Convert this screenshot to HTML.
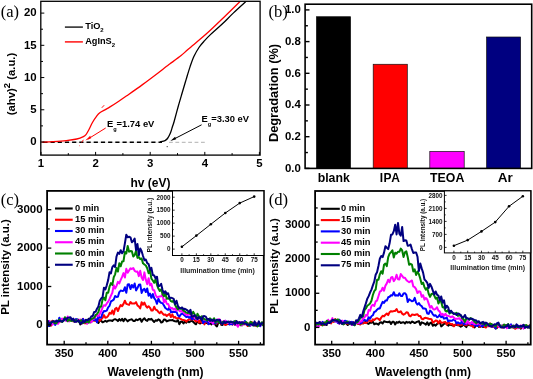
<!DOCTYPE html>
<html><head><meta charset="utf-8"><style>
html,body{margin:0;padding:0;background:#fff;width:533px;height:379px;overflow:hidden;}
svg{display:block;will-change:transform;}
</style></head><body>
<svg width="533" height="379" viewBox="0 0 533 379">
<rect x="0" y="0" width="533" height="379" fill="#fff"/>
<clipPath id="ca"><rect x="40.8" y="1.3" width="219.3" height="153.79999999999998"/></clipPath>
<g clip-path="url(#ca)">
<line x1="42.00" y1="142.30" x2="162.00" y2="142.30" stroke="#ddd" stroke-width="0.8" />
<line x1="43.30" y1="142.30" x2="162.00" y2="142.30" stroke="#000" stroke-width="1.4" stroke-dasharray="4.2,3"/>
<line x1="169.00" y1="142.30" x2="207.00" y2="142.30" stroke="#a8a8a8" stroke-width="0.9" stroke-dasharray="3.8,2.6"/>
<path d="M41.50,142.10 C43.43,142.02 48.97,141.85 53.10,141.60 C57.23,141.35 62.35,141.03 66.30,140.60 C70.25,140.17 73.95,139.67 76.80,139.00 C79.65,138.33 81.87,137.33 83.40,136.60 C84.93,135.87 85.13,135.65 86.00,134.60 C86.87,133.55 87.50,132.35 88.60,130.30 C89.70,128.25 91.28,124.62 92.60,122.30 C93.92,119.98 95.30,117.98 96.50,116.40 C97.70,114.82 98.27,113.97 99.80,112.80 C101.33,111.63 104.00,110.38 105.70,109.40 C107.40,108.42 107.82,108.27 110.00,106.90 C112.18,105.53 116.02,103.05 118.80,101.20 C121.58,99.35 122.75,98.57 126.70,95.80 C130.65,93.03 137.22,88.45 142.50,84.60 C147.78,80.75 154.65,75.55 158.40,72.70 C162.15,69.85 163.07,68.98 165.00,67.50 C166.93,66.02 167.32,65.78 170.00,63.80 C172.68,61.82 178.02,58.07 181.10,55.60 C184.18,53.13 184.18,52.72 188.50,49.00 C192.82,45.28 200.83,38.85 207.00,33.30 C213.17,27.75 219.75,21.25 225.50,15.70 C231.25,10.15 238.83,2.62 241.50,0.00" fill="none" stroke="#f00" stroke-width="1.3" stroke-linejoin="round" />
<path d="M160.00,141.90 C160.83,141.68 163.75,141.17 165.00,140.60 C166.25,140.03 166.62,139.72 167.50,138.50 C168.38,137.28 169.47,135.30 170.30,133.30 C171.13,131.30 171.85,128.52 172.50,126.50 C173.15,124.48 173.25,124.53 174.20,121.20 C175.15,117.87 176.87,111.23 178.20,106.50 C179.53,101.77 180.88,97.28 182.20,92.80 C183.52,88.32 184.78,83.97 186.10,79.60 C187.42,75.23 188.78,70.48 190.10,66.60 C191.42,62.72 192.47,59.57 194.00,56.30 C195.53,53.03 197.53,49.62 199.30,47.00 C201.07,44.38 202.70,42.70 204.60,40.60 C206.50,38.50 207.77,37.17 210.70,34.40 C213.63,31.63 218.40,27.58 222.20,24.00 C226.00,20.42 229.27,16.90 233.50,12.90 C237.73,8.90 245.25,2.15 247.60,0.00" fill="none" stroke="#000" stroke-width="1.3" stroke-linejoin="round" />
</g>
<line x1="101.80" y1="107.80" x2="104.20" y2="105.20" stroke="#f00" stroke-width="0.9" />
<line x1="81.60" y1="142.60" x2="83.40" y2="139.80" stroke="#f00" stroke-width="0.9" />
<line x1="105.70" y1="128.00" x2="88.00" y2="139.00" stroke="#f00" stroke-width="1.0" />
<polygon points="85.3,140.6 90.2,135.8 91.2,138.3" fill="#f00"/>
<rect x="79" y="145.2" width="1" height="1" fill="#f88"/>
<line x1="201.60" y1="124.80" x2="173.50" y2="139.30" stroke="#000" stroke-width="1.0" />
<polygon points="170.3,141.0 175.1,136.7 176.2,139.3" fill="#000"/>
<rect x="166.7" y="146" width="1" height="1.2" fill="#444"/>
<rect x="40.80" y="1.30" width="219.30" height="153.80" fill="none" stroke="#000" stroke-width="1.3"/>
<line x1="40.80" y1="142.00" x2="44.30" y2="142.00" stroke="#000" stroke-width="1.0" />
<text x="36.60" y="145.20" font-family="'Liberation Sans', sans-serif" font-size="11.4" font-weight="bold" text-anchor="end" fill="#000" >0</text>
<line x1="40.80" y1="109.78" x2="44.30" y2="109.78" stroke="#000" stroke-width="1.0" />
<text x="36.60" y="112.98" font-family="'Liberation Sans', sans-serif" font-size="11.4" font-weight="bold" text-anchor="end" fill="#000" >5</text>
<line x1="40.80" y1="77.55" x2="44.30" y2="77.55" stroke="#000" stroke-width="1.0" />
<text x="36.60" y="80.75" font-family="'Liberation Sans', sans-serif" font-size="11.4" font-weight="bold" text-anchor="end" fill="#000" >10</text>
<line x1="40.80" y1="45.32" x2="44.30" y2="45.32" stroke="#000" stroke-width="1.0" />
<text x="36.60" y="48.52" font-family="'Liberation Sans', sans-serif" font-size="11.4" font-weight="bold" text-anchor="end" fill="#000" >15</text>
<line x1="40.80" y1="13.10" x2="44.30" y2="13.10" stroke="#000" stroke-width="1.0" />
<text x="36.60" y="16.30" font-family="'Liberation Sans', sans-serif" font-size="11.4" font-weight="bold" text-anchor="end" fill="#000" >20</text>
<line x1="40.80" y1="125.89" x2="43.00" y2="125.89" stroke="#000" stroke-width="1.0" />
<line x1="40.80" y1="93.66" x2="43.00" y2="93.66" stroke="#000" stroke-width="1.0" />
<line x1="40.80" y1="61.44" x2="43.00" y2="61.44" stroke="#000" stroke-width="1.0" />
<line x1="40.80" y1="29.21" x2="43.00" y2="29.21" stroke="#000" stroke-width="1.0" />
<line x1="41.00" y1="155.10" x2="41.00" y2="151.90" stroke="#000" stroke-width="1.0" />
<text x="41.00" y="167.40" font-family="'Liberation Sans', sans-serif" font-size="11.4" font-weight="bold" text-anchor="middle" fill="#000" >1</text>
<line x1="95.60" y1="155.10" x2="95.60" y2="151.90" stroke="#000" stroke-width="1.0" />
<text x="95.60" y="167.40" font-family="'Liberation Sans', sans-serif" font-size="11.4" font-weight="bold" text-anchor="middle" fill="#000" >2</text>
<line x1="150.20" y1="155.10" x2="150.20" y2="151.90" stroke="#000" stroke-width="1.0" />
<text x="150.20" y="167.40" font-family="'Liberation Sans', sans-serif" font-size="11.4" font-weight="bold" text-anchor="middle" fill="#000" >3</text>
<line x1="204.80" y1="155.10" x2="204.80" y2="151.90" stroke="#000" stroke-width="1.0" />
<text x="204.80" y="167.40" font-family="'Liberation Sans', sans-serif" font-size="11.4" font-weight="bold" text-anchor="middle" fill="#000" >4</text>
<line x1="259.40" y1="155.10" x2="259.40" y2="151.90" stroke="#000" stroke-width="1.0" />
<text x="259.40" y="167.40" font-family="'Liberation Sans', sans-serif" font-size="11.4" font-weight="bold" text-anchor="middle" fill="#000" >5</text>
<line x1="68.30" y1="155.10" x2="68.30" y2="153.10" stroke="#000" stroke-width="1.0" />
<line x1="122.90" y1="155.10" x2="122.90" y2="153.10" stroke="#000" stroke-width="1.0" />
<line x1="177.50" y1="155.10" x2="177.50" y2="153.10" stroke="#000" stroke-width="1.0" />
<line x1="232.10" y1="155.10" x2="232.10" y2="153.10" stroke="#000" stroke-width="1.0" />
<text x="150.50" y="186.50" font-family="'Liberation Sans', sans-serif" font-size="12" font-weight="bold" text-anchor="middle" fill="#000" >hv (eV)</text>
<text transform="translate(14.6,84) rotate(-90)" font-family="'Liberation Sans', sans-serif" font-size="11.3" font-weight="bold" text-anchor="middle">(ahv)<tspan font-size="9.5" dy="-4.6">2</tspan><tspan dy="4.6"> (a.u.)</tspan></text>
<text x="0.70" y="16.80" font-family="'Liberation Serif', serif" font-size="16.5" font-weight="normal" text-anchor="start" fill="#000" >(a)</text>
<line x1="64.90" y1="27.10" x2="82.90" y2="27.10" stroke="#222" stroke-width="1.5" />
<line x1="64.90" y1="41.90" x2="82.90" y2="41.90" stroke="#f00" stroke-width="1.4" />
<text x="85.2" y="29.0" font-family="'Liberation Sans', sans-serif" font-size="9.2" font-weight="bold">TiO<tspan font-size="6" dy="3.4">2</tspan></text>
<text x="85.2" y="43.8" font-family="'Liberation Sans', sans-serif" font-size="9.2" font-weight="bold">AgInS<tspan font-size="6" dy="3.4">2</tspan></text>
<text x="106.9" y="126.5" font-family="'Liberation Sans', sans-serif" font-size="9.4" font-weight="bold">E<tspan font-size="5.6" dy="4.2">g</tspan><tspan dy="-4.2">=1.74 eV</tspan></text>
<text x="201.5" y="122.2" font-family="'Liberation Sans', sans-serif" font-size="9.4" font-weight="bold">E<tspan font-size="5.6" dy="4.2">g</tspan><tspan dy="-4.2">=3.30 eV</tspan></text>
<rect x="316.40" y="16.72" width="34.20" height="151.68" fill="#000" stroke="#111" stroke-width="0.7"/>
<rect x="373.20" y="64.27" width="34.10" height="104.13" fill="#f00" stroke="#111" stroke-width="0.7"/>
<rect x="429.80" y="151.44" width="34.40" height="16.96" fill="#f0f" stroke="#111" stroke-width="0.7"/>
<rect x="486.60" y="37.00" width="34.00" height="131.40" fill="#000080" stroke="#111" stroke-width="0.7"/>
<rect x="305.10" y="4.20" width="226.60" height="164.20" fill="none" stroke="#000" stroke-width="1.6"/>
<line x1="305.10" y1="168.40" x2="309.50" y2="168.40" stroke="#000" stroke-width="1.4" />
<text x="300.80" y="171.60" font-family="'Liberation Sans', sans-serif" font-size="11.4" font-weight="bold" text-anchor="end" fill="#000" >0.0</text>
<line x1="305.10" y1="136.70" x2="309.50" y2="136.70" stroke="#000" stroke-width="1.4" />
<text x="300.80" y="139.90" font-family="'Liberation Sans', sans-serif" font-size="11.4" font-weight="bold" text-anchor="end" fill="#000" >0.2</text>
<line x1="305.10" y1="105.00" x2="309.50" y2="105.00" stroke="#000" stroke-width="1.4" />
<text x="300.80" y="108.20" font-family="'Liberation Sans', sans-serif" font-size="11.4" font-weight="bold" text-anchor="end" fill="#000" >0.4</text>
<line x1="305.10" y1="73.30" x2="309.50" y2="73.30" stroke="#000" stroke-width="1.4" />
<text x="300.80" y="76.50" font-family="'Liberation Sans', sans-serif" font-size="11.4" font-weight="bold" text-anchor="end" fill="#000" >0.6</text>
<line x1="305.10" y1="41.60" x2="309.50" y2="41.60" stroke="#000" stroke-width="1.4" />
<text x="300.80" y="44.80" font-family="'Liberation Sans', sans-serif" font-size="11.4" font-weight="bold" text-anchor="end" fill="#000" >0.8</text>
<line x1="305.10" y1="9.90" x2="309.50" y2="9.90" stroke="#000" stroke-width="1.4" />
<text x="300.80" y="13.10" font-family="'Liberation Sans', sans-serif" font-size="11.4" font-weight="bold" text-anchor="end" fill="#000" >1.0</text>
<line x1="305.10" y1="152.55" x2="307.90" y2="152.55" stroke="#000" stroke-width="1.4" />
<line x1="305.10" y1="120.85" x2="307.90" y2="120.85" stroke="#000" stroke-width="1.4" />
<line x1="305.10" y1="89.15" x2="307.90" y2="89.15" stroke="#000" stroke-width="1.4" />
<line x1="305.10" y1="57.45" x2="307.90" y2="57.45" stroke="#000" stroke-width="1.4" />
<line x1="305.10" y1="25.75" x2="307.90" y2="25.75" stroke="#000" stroke-width="1.4" />
<text x="333.70" y="182.20" font-family="'Liberation Sans', sans-serif" font-size="12.3" font-weight="bold" text-anchor="middle" fill="#000" >blank</text>
<text x="390.10" y="182.00" font-family="'Liberation Sans', sans-serif" font-size="12.0" font-weight="bold" text-anchor="middle" fill="#000" letter-spacing="0.5">IPA</text>
<text x="447.20" y="182.20" font-family="'Liberation Sans', sans-serif" font-size="12.3" font-weight="bold" text-anchor="middle" fill="#000" >TEOA</text>
<text x="505.30" y="181.60" font-family="'Liberation Sans', sans-serif" font-size="13.5" font-weight="bold" text-anchor="middle" fill="#000" >Ar</text>
<text transform="translate(277.9,93) rotate(-90)" font-family="'Liberation Sans', sans-serif" font-size="12.8" font-weight="bold" text-anchor="middle">Degradation (%)</text>
<text x="268.40" y="17.00" font-family="'Liberation Serif', serif" font-size="16.6" font-weight="normal" text-anchor="start" fill="#000" >(b)</text>
<clipPath id="cc"><rect x="47.1" y="190.9" width="216.70000000000002" height="153.70000000000002"/></clipPath>
<g clip-path="url(#cc)">
<polyline points="46.76,322.76 48.16,322.10 49.55,322.59 50.95,324.45 52.34,321.73 53.74,322.18 55.13,323.26 56.53,321.64 57.92,321.53 59.32,321.26 60.71,321.22 62.11,319.76 63.50,320.44 64.90,319.33 66.29,319.71 67.69,318.43 69.08,319.09 70.48,319.80 71.87,320.79 73.27,320.57 74.66,320.67 76.06,321.16 77.45,319.44 78.85,319.94 80.24,324.48 81.64,323.50 83.04,321.46 84.43,321.75 85.83,320.99 87.22,320.98 88.62,318.69 90.01,322.52 91.41,321.63 92.80,318.71 94.20,320.35 95.59,320.29 96.99,321.66 98.38,322.98 99.78,320.75 101.17,320.76 102.57,322.32 103.96,321.61 105.36,320.81 106.75,321.81 108.15,320.73 109.54,320.43 110.94,320.44 112.33,321.03 113.73,319.61 115.12,319.17 116.52,319.80 117.92,321.15 119.31,319.17 120.71,320.64 122.10,318.87 123.50,321.25 124.89,318.72 126.29,319.84 127.68,321.33 129.08,320.13 130.47,319.64 131.87,319.34 133.26,320.90 134.66,321.05 136.05,319.42 137.45,320.27 138.84,319.40 140.24,318.76 141.63,321.80 143.03,319.43 144.42,318.24 145.82,320.19 147.21,320.87 148.61,318.96 150.00,319.62 151.40,318.87 152.80,320.47 154.19,321.94 155.59,320.30 156.98,320.78 158.38,319.32 159.77,320.11 161.17,322.43 162.56,321.95 163.96,319.44 165.35,319.76 166.75,321.44 168.14,320.72 169.54,320.26 170.93,320.34 172.33,319.95 173.72,320.81 175.12,321.33 176.51,321.62 177.91,320.11 179.30,324.22 180.70,321.74 182.09,321.62 183.49,323.48 184.88,321.43 186.28,322.71 187.68,320.96 189.07,322.24 190.47,321.36 191.86,320.78 193.26,321.87 194.65,323.46 196.05,324.31 197.44,320.45 198.84,322.77 200.23,323.54 201.63,322.61 203.02,323.09 204.42,321.91 205.81,322.96 207.21,323.05 208.60,324.00 210.00,322.64 211.39,324.51 212.79,322.54 214.18,321.54 215.58,325.22 216.97,326.38 218.37,322.72 219.76,320.44 221.16,324.71 222.56,325.04 223.95,322.87 225.35,324.61 226.74,324.24 228.14,324.08 229.53,323.05 230.93,324.20 232.32,323.41 233.72,323.98 235.11,324.80 236.51,324.20 237.90,324.98 239.30,323.87 240.69,325.24 242.09,325.23 243.48,322.21 244.88,324.04 246.27,324.06 247.67,323.41 249.06,324.55 250.46,324.34 251.85,323.59 253.25,323.78 254.64,325.52 256.04,323.17 257.44,324.89 258.83,325.47 260.23,325.31 261.62,324.72 263.02,322.34 264.41,325.70" fill="none" stroke="#000" stroke-width="2.0" stroke-linejoin="round" />
<polyline points="46.76,322.95 48.16,323.70 49.55,323.48 50.95,325.80 52.34,320.66 53.74,321.35 55.13,323.01 56.53,321.41 57.92,321.63 59.32,322.27 60.71,320.09 62.11,320.78 63.50,319.95 64.90,320.08 66.29,318.60 67.69,319.26 69.08,318.49 70.48,320.17 71.87,319.71 73.27,321.33 74.66,319.67 76.06,320.61 77.45,320.59 78.85,320.65 80.24,322.46 81.64,320.32 83.04,318.80 84.43,323.20 85.83,323.31 87.22,323.04 88.62,320.25 90.01,321.10 91.41,319.98 92.80,320.34 94.20,320.76 95.59,320.40 96.99,320.66 98.38,318.95 99.78,320.90 101.17,319.42 102.57,317.92 103.96,315.09 105.36,317.69 106.75,317.34 108.15,315.85 109.54,312.87 110.94,313.76 112.33,310.52 113.73,314.37 115.12,308.74 116.52,307.91 117.92,311.00 119.31,307.61 120.71,305.04 122.10,306.19 123.50,303.86 124.89,300.74 126.29,303.85 127.68,304.41 129.08,304.90 130.47,302.04 131.87,303.48 133.26,303.48 134.66,303.41 136.05,302.12 137.45,305.35 138.84,306.44 140.24,308.39 141.63,302.27 143.03,304.68 144.42,302.63 145.82,305.81 147.21,307.67 148.61,306.26 150.00,307.84 151.40,310.40 152.80,310.41 154.19,306.77 155.59,309.68 156.98,310.24 158.38,311.98 159.77,313.25 161.17,311.48 162.56,313.49 163.96,314.92 165.35,314.45 166.75,315.97 168.14,314.80 169.54,313.89 170.93,317.07 172.33,314.35 173.72,317.64 175.12,316.90 176.51,318.60 177.91,318.10 179.30,318.07 180.70,319.02 182.09,319.66 183.49,319.91 184.88,320.37 186.28,321.59 187.68,320.14 189.07,319.52 190.47,319.09 191.86,319.63 193.26,317.54 194.65,320.43 196.05,321.59 197.44,318.85 198.84,322.66 200.23,320.31 201.63,322.86 203.02,321.40 204.42,324.41 205.81,321.03 207.21,322.47 208.60,323.60 210.00,320.50 211.39,321.74 212.79,322.73 214.18,323.77 215.58,323.00 216.97,323.22 218.37,322.22 219.76,322.20 221.16,324.04 222.56,323.96 223.95,323.99 225.35,325.03 226.74,324.17 228.14,323.62 229.53,322.72 230.93,322.01 232.32,324.61 233.72,323.02 235.11,324.25 236.51,321.28 237.90,323.86 239.30,323.25 240.69,325.01 242.09,324.90 243.48,323.73 244.88,324.47 246.27,323.62 247.67,325.93 249.06,323.31 250.46,325.18 251.85,322.08 253.25,324.50 254.64,322.87 256.04,325.86 257.44,323.71 258.83,325.29 260.23,324.84 261.62,324.25 263.02,324.68 264.41,324.00" fill="none" stroke="#f00" stroke-width="2.0" stroke-linejoin="round" />
<polyline points="46.76,320.74 48.16,326.12 49.55,322.49 50.95,323.57 52.34,323.34 53.74,322.97 55.13,325.02 56.53,322.60 57.92,323.00 59.32,317.65 60.71,320.98 62.11,320.83 63.50,319.90 64.90,319.94 66.29,320.40 67.69,319.61 69.08,318.57 70.48,319.73 71.87,318.72 73.27,320.50 74.66,320.65 76.06,318.99 77.45,320.33 78.85,321.74 80.24,321.47 81.64,320.61 83.04,318.95 84.43,321.57 85.83,321.54 87.22,320.06 88.62,322.31 90.01,321.60 91.41,320.01 92.80,319.95 94.20,320.01 95.59,318.68 96.99,322.27 98.38,316.23 99.78,317.70 101.17,317.45 102.57,313.22 103.96,310.98 105.36,311.16 106.75,310.66 108.15,307.31 109.54,305.81 110.94,301.45 112.33,300.65 113.73,299.69 115.12,296.01 116.52,296.92 117.92,296.81 119.31,292.07 120.71,290.59 122.10,290.89 123.50,290.81 124.89,287.29 126.29,292.83 127.68,284.46 129.08,284.25 130.47,289.07 131.87,284.94 133.26,287.52 134.66,283.48 136.05,290.40 137.45,288.06 138.84,284.77 140.24,284.42 141.63,292.91 143.03,289.85 144.42,288.88 145.82,292.06 147.21,288.42 148.61,295.77 150.00,293.67 151.40,297.81 152.80,293.99 154.19,298.10 155.59,300.01 156.98,303.84 158.38,298.70 159.77,301.70 161.17,302.86 162.56,303.20 163.96,305.50 165.35,308.03 166.75,309.07 168.14,309.81 169.54,307.05 170.93,312.37 172.33,311.73 173.72,312.01 175.12,311.87 176.51,312.00 177.91,315.33 179.30,316.59 180.70,314.61 182.09,313.39 183.49,314.57 184.88,315.82 186.28,317.03 187.68,316.60 189.07,317.73 190.47,316.66 191.86,319.19 193.26,318.27 194.65,318.92 196.05,318.35 197.44,319.07 198.84,316.31 200.23,317.96 201.63,318.24 203.02,323.04 204.42,321.11 205.81,321.68 207.21,320.47 208.60,324.23 210.00,320.10 211.39,320.44 212.79,323.57 214.18,323.31 215.58,323.22 216.97,322.31 218.37,321.71 219.76,320.10 221.16,322.97 222.56,321.90 223.95,322.75 225.35,320.89 226.74,322.21 228.14,321.53 229.53,324.56 230.93,323.56 232.32,324.37 233.72,321.64 235.11,322.73 236.51,323.95 237.90,324.18 239.30,323.12 240.69,324.60 242.09,324.94 243.48,323.31 244.88,321.01 246.27,324.30 247.67,324.71 249.06,325.48 250.46,325.70 251.85,323.51 253.25,323.14 254.64,324.16 256.04,323.80 257.44,324.08 258.83,324.07 260.23,326.07 261.62,324.82 263.02,324.17 264.41,325.25" fill="none" stroke="#00f" stroke-width="2.0" stroke-linejoin="round" />
<polyline points="46.76,323.95 48.16,323.29 49.55,321.01 50.95,322.11 52.34,324.76 53.74,322.72 55.13,323.36 56.53,322.15 57.92,323.88 59.32,321.32 60.71,320.97 62.11,318.53 63.50,319.19 64.90,318.53 66.29,320.92 67.69,316.46 69.08,321.42 70.48,318.14 71.87,320.25 73.27,321.31 74.66,321.46 76.06,321.63 77.45,320.53 78.85,321.27 80.24,319.49 81.64,323.43 83.04,321.26 84.43,322.31 85.83,320.33 87.22,323.77 88.62,321.66 90.01,320.77 91.41,322.28 92.80,318.52 94.20,318.71 95.59,316.47 96.99,315.04 98.38,316.12 99.78,314.17 101.17,311.29 102.57,307.59 103.96,305.19 105.36,305.76 106.75,303.47 108.15,301.65 109.54,298.92 110.94,295.64 112.33,292.71 113.73,285.15 115.12,288.61 116.52,285.85 117.92,281.83 119.31,283.39 120.71,279.91 122.10,276.93 123.50,273.08 124.89,277.55 126.29,268.80 127.68,272.70 129.08,270.51 130.47,268.40 131.87,269.02 133.26,268.03 134.66,270.81 136.05,271.72 137.45,271.47 138.84,276.11 140.24,270.84 141.63,277.45 143.03,279.95 144.42,272.36 145.82,279.82 147.21,284.23 148.61,278.27 150.00,285.39 151.40,283.70 152.80,289.86 154.19,290.15 155.59,295.04 156.98,297.18 158.38,296.85 159.77,296.60 161.17,296.32 162.56,294.47 163.96,302.40 165.35,299.65 166.75,303.73 168.14,303.93 169.54,307.32 170.93,308.30 172.33,308.06 173.72,309.69 175.12,308.62 176.51,310.61 177.91,308.27 179.30,310.79 180.70,311.51 182.09,310.74 183.49,312.37 184.88,313.84 186.28,314.51 187.68,315.11 189.07,313.90 190.47,314.82 191.86,315.87 193.26,315.70 194.65,317.98 196.05,316.92 197.44,319.92 198.84,316.54 200.23,318.59 201.63,318.80 203.02,318.58 204.42,319.70 205.81,320.33 207.21,318.75 208.60,320.42 210.00,322.01 211.39,320.53 212.79,323.48 214.18,319.42 215.58,321.91 216.97,321.81 218.37,319.23 219.76,319.53 221.16,322.21 222.56,321.72 223.95,321.28 225.35,320.67 226.74,323.00 228.14,322.78 229.53,321.54 230.93,322.80 232.32,322.29 233.72,322.55 235.11,324.74 236.51,324.48 237.90,326.70 239.30,323.90 240.69,322.06 242.09,325.08 243.48,322.35 244.88,322.71 246.27,324.04 247.67,324.04 249.06,323.98 250.46,325.14 251.85,324.47 253.25,324.21 254.64,323.45 256.04,323.25 257.44,325.10 258.83,323.25 260.23,325.18 261.62,324.48 263.02,323.86 264.41,324.35" fill="none" stroke="#f0f" stroke-width="2.0" stroke-linejoin="round" />
<polyline points="46.76,324.13 48.16,324.66 49.55,323.28 50.95,322.40 52.34,321.45 53.74,322.58 55.13,323.28 56.53,323.26 57.92,321.08 59.32,319.66 60.71,320.93 62.11,321.88 63.50,320.70 64.90,317.24 66.29,318.90 67.69,321.20 69.08,319.24 70.48,320.83 71.87,320.61 73.27,320.85 74.66,321.53 76.06,320.17 77.45,321.06 78.85,321.84 80.24,320.76 81.64,320.26 83.04,323.21 84.43,321.56 85.83,322.42 87.22,321.44 88.62,322.39 90.01,320.03 91.41,319.12 92.80,318.37 94.20,317.84 95.59,315.06 96.99,314.01 98.38,312.22 99.78,307.06 101.17,306.54 102.57,299.57 103.96,297.57 105.36,300.25 106.75,292.67 108.15,292.65 109.54,286.70 110.94,283.12 112.33,284.96 113.73,277.25 115.12,274.33 116.52,267.94 117.92,271.59 119.31,263.14 120.71,266.32 122.10,261.51 123.50,261.26 124.89,252.04 126.29,253.56 127.68,245.97 129.08,251.71 130.47,251.07 131.87,251.25 133.26,256.53 134.66,254.98 136.05,250.80 137.45,257.89 138.84,257.14 140.24,259.12 141.63,258.53 143.03,263.35 144.42,264.53 145.82,265.49 147.21,268.21 148.61,273.25 150.00,270.34 151.40,278.67 152.80,280.49 154.19,282.79 155.59,279.20 156.98,284.86 158.38,288.55 159.77,290.99 161.17,289.27 162.56,294.24 163.96,296.20 165.35,293.63 166.75,298.78 168.14,298.31 169.54,299.01 170.93,301.19 172.33,301.73 173.72,300.41 175.12,304.99 176.51,307.40 177.91,309.39 179.30,307.54 180.70,308.73 182.09,308.61 183.49,310.67 184.88,311.50 186.28,312.65 187.68,313.04 189.07,312.66 190.47,314.09 191.86,313.96 193.26,311.88 194.65,314.50 196.05,317.97 197.44,313.72 198.84,316.16 200.23,318.40 201.63,316.27 203.02,317.91 204.42,319.18 205.81,319.59 207.21,320.44 208.60,319.41 210.00,318.41 211.39,320.56 212.79,319.89 214.18,318.26 215.58,322.48 216.97,320.83 218.37,321.76 219.76,322.92 221.16,323.07 222.56,321.99 223.95,321.60 225.35,322.96 226.74,322.38 228.14,321.68 229.53,322.33 230.93,321.75 232.32,322.36 233.72,322.43 235.11,320.90 236.51,322.46 237.90,323.15 239.30,322.54 240.69,324.60 242.09,324.00 243.48,322.74 244.88,323.03 246.27,322.02 247.67,323.95 249.06,325.78 250.46,321.77 251.85,322.83 253.25,325.42 254.64,322.54 256.04,324.16 257.44,326.38 258.83,324.74 260.23,324.86 261.62,322.38 263.02,325.24 264.41,324.62" fill="none" stroke="#008000" stroke-width="2.0" stroke-linejoin="round" />
<polyline points="46.76,321.92 48.16,320.97 49.55,326.03 50.95,323.06 52.34,321.60 53.74,321.10 55.13,321.84 56.53,320.55 57.92,321.62 59.32,320.95 60.71,321.04 62.11,321.69 63.50,320.57 64.90,318.69 66.29,319.83 67.69,317.63 69.08,317.60 70.48,317.31 71.87,319.89 73.27,318.62 74.66,321.75 76.06,321.80 77.45,320.89 78.85,320.80 80.24,323.16 81.64,323.31 83.04,320.83 84.43,322.28 85.83,319.80 87.22,320.34 88.62,319.54 90.01,318.50 91.41,316.32 92.80,315.92 94.20,311.90 95.59,311.82 96.99,308.72 98.38,306.44 99.78,300.83 101.17,298.53 102.57,297.13 103.96,287.69 105.36,289.50 106.75,285.36 108.15,280.12 109.54,272.26 110.94,273.34 112.33,267.11 113.73,265.36 115.12,266.98 116.52,256.49 117.92,252.58 119.31,253.84 120.71,250.22 122.10,253.31 123.50,251.22 124.89,243.39 126.29,234.73 127.68,237.32 129.08,236.77 130.47,237.33 131.87,242.30 133.26,241.07 134.66,238.56 136.05,250.06 137.45,244.02 138.84,255.22 140.24,248.42 141.63,251.19 143.03,255.97 144.42,260.27 145.82,259.49 147.21,263.19 148.61,264.10 150.00,269.72 151.40,267.87 152.80,275.02 154.19,275.51 155.59,278.41 156.98,276.69 158.38,286.27 159.77,285.73 161.17,283.87 162.56,290.05 163.96,293.04 165.35,291.23 166.75,294.06 168.14,293.22 169.54,298.40 170.93,297.64 172.33,298.17 173.72,298.88 175.12,304.22 176.51,300.75 177.91,306.11 179.30,308.26 180.70,308.31 182.09,307.42 183.49,309.17 184.88,308.82 186.28,309.58 187.68,310.64 189.07,312.26 190.47,309.76 191.86,316.55 193.26,316.40 194.65,315.14 196.05,316.78 197.44,319.17 198.84,317.13 200.23,317.54 201.63,320.39 203.02,316.24 204.42,316.09 205.81,316.63 207.21,319.41 208.60,318.92 210.00,320.97 211.39,319.56 212.79,321.03 214.18,319.90 215.58,321.14 216.97,319.63 218.37,320.15 219.76,319.86 221.16,323.67 222.56,324.12 223.95,321.52 225.35,322.91 226.74,321.85 228.14,322.11 229.53,322.39 230.93,321.61 232.32,322.17 233.72,322.39 235.11,324.16 236.51,321.08 237.90,323.13 239.30,322.05 240.69,323.10 242.09,322.08 243.48,323.53 244.88,323.56 246.27,323.75 247.67,324.84 249.06,324.75 250.46,324.29 251.85,324.27 253.25,325.32 254.64,321.37 256.04,325.36 257.44,324.58 258.83,321.33 260.23,325.04 261.62,323.37 263.02,323.51 264.41,324.57" fill="none" stroke="#000080" stroke-width="2.0" stroke-linejoin="round" />
</g>
<rect x="47.10" y="190.90" width="216.70" height="153.70" fill="none" stroke="#000" stroke-width="1.8"/>
<line x1="47.10" y1="324.90" x2="51.30" y2="324.90" stroke="#000" stroke-width="1.3" />
<text x="42.60" y="328.00" font-family="'Liberation Sans', sans-serif" font-size="11.5" font-weight="bold" text-anchor="end" fill="#000" >0</text>
<line x1="47.10" y1="286.50" x2="51.30" y2="286.50" stroke="#000" stroke-width="1.3" />
<text x="42.60" y="289.60" font-family="'Liberation Sans', sans-serif" font-size="11.5" font-weight="bold" text-anchor="end" fill="#000" >1000</text>
<line x1="47.10" y1="248.10" x2="51.30" y2="248.10" stroke="#000" stroke-width="1.3" />
<text x="42.60" y="251.20" font-family="'Liberation Sans', sans-serif" font-size="11.5" font-weight="bold" text-anchor="end" fill="#000" >2000</text>
<line x1="47.10" y1="209.70" x2="51.30" y2="209.70" stroke="#000" stroke-width="1.3" />
<text x="42.60" y="212.80" font-family="'Liberation Sans', sans-serif" font-size="11.5" font-weight="bold" text-anchor="end" fill="#000" >3000</text>
<line x1="47.10" y1="305.70" x2="49.70" y2="305.70" stroke="#000" stroke-width="1.3" />
<line x1="47.10" y1="267.30" x2="49.70" y2="267.30" stroke="#000" stroke-width="1.3" />
<line x1="47.10" y1="228.90" x2="49.70" y2="228.90" stroke="#000" stroke-width="1.3" />
<line x1="64.20" y1="344.60" x2="64.20" y2="340.80" stroke="#000" stroke-width="1.3" />
<text x="64.20" y="357.20" font-family="'Liberation Sans', sans-serif" font-size="11.4" font-weight="bold" text-anchor="middle" fill="#000" >350</text>
<line x1="107.80" y1="344.60" x2="107.80" y2="340.80" stroke="#000" stroke-width="1.3" />
<text x="107.80" y="357.20" font-family="'Liberation Sans', sans-serif" font-size="11.4" font-weight="bold" text-anchor="middle" fill="#000" >400</text>
<line x1="151.40" y1="344.60" x2="151.40" y2="340.80" stroke="#000" stroke-width="1.3" />
<text x="151.40" y="357.20" font-family="'Liberation Sans', sans-serif" font-size="11.4" font-weight="bold" text-anchor="middle" fill="#000" >450</text>
<line x1="195.00" y1="344.60" x2="195.00" y2="340.80" stroke="#000" stroke-width="1.3" />
<text x="195.00" y="357.20" font-family="'Liberation Sans', sans-serif" font-size="11.4" font-weight="bold" text-anchor="middle" fill="#000" >500</text>
<line x1="238.60" y1="344.60" x2="238.60" y2="340.80" stroke="#000" stroke-width="1.3" />
<text x="238.60" y="357.20" font-family="'Liberation Sans', sans-serif" font-size="11.4" font-weight="bold" text-anchor="middle" fill="#000" >550</text>
<line x1="86.00" y1="344.60" x2="86.00" y2="342.20" stroke="#000" stroke-width="1.3" />
<line x1="129.60" y1="344.60" x2="129.60" y2="342.20" stroke="#000" stroke-width="1.3" />
<line x1="173.20" y1="344.60" x2="173.20" y2="342.20" stroke="#000" stroke-width="1.3" />
<line x1="216.80" y1="344.60" x2="216.80" y2="342.20" stroke="#000" stroke-width="1.3" />
<line x1="260.40" y1="344.60" x2="260.40" y2="342.20" stroke="#000" stroke-width="1.3" />
<text x="155.50" y="375.80" font-family="'Liberation Sans', sans-serif" font-size="12" font-weight="bold" text-anchor="middle" fill="#000" >Wavelength (nm)</text>
<text transform="translate(8.5,267) rotate(-90)" font-family="'Liberation Sans', sans-serif" font-size="11.5" font-weight="bold" text-anchor="middle">PL intensity (a.u.)</text>
<text x="0.70" y="204.50" font-family="'Liberation Serif', serif" font-size="16.5" font-weight="normal" text-anchor="start" fill="#000" >(c)</text>
<line x1="55.00" y1="208.50" x2="72.70" y2="208.50" stroke="#000" stroke-width="2.1" />
<text x="75.00" y="210.60" font-family="'Liberation Sans', sans-serif" font-size="9.3" font-weight="bold" text-anchor="start" fill="#000" >0 min</text>
<line x1="55.00" y1="219.75" x2="72.70" y2="219.75" stroke="#f00" stroke-width="2.1" />
<text x="75.00" y="221.85" font-family="'Liberation Sans', sans-serif" font-size="9.3" font-weight="bold" text-anchor="start" fill="#000" >15 min</text>
<line x1="55.00" y1="231.00" x2="72.70" y2="231.00" stroke="#00f" stroke-width="2.1" />
<text x="75.00" y="233.10" font-family="'Liberation Sans', sans-serif" font-size="9.3" font-weight="bold" text-anchor="start" fill="#000" >30 min</text>
<line x1="55.00" y1="242.25" x2="72.70" y2="242.25" stroke="#f0f" stroke-width="2.1" />
<text x="75.00" y="244.35" font-family="'Liberation Sans', sans-serif" font-size="9.3" font-weight="bold" text-anchor="start" fill="#000" >45 min</text>
<line x1="55.00" y1="253.50" x2="72.70" y2="253.50" stroke="#008000" stroke-width="2.1" />
<text x="75.00" y="255.60" font-family="'Liberation Sans', sans-serif" font-size="9.3" font-weight="bold" text-anchor="start" fill="#000" >60 min</text>
<line x1="55.00" y1="264.75" x2="72.70" y2="264.75" stroke="#000080" stroke-width="2.1" />
<text x="75.00" y="266.85" font-family="'Liberation Sans', sans-serif" font-size="9.3" font-weight="bold" text-anchor="start" fill="#000" >75 min</text>
<rect x="172.5" y="190.9" width="91.30000000000001" height="64.6" fill="#fff" stroke="#000" stroke-width="1"/>
<polyline points="181.90,246.79 196.36,235.61 210.82,224.29 225.28,213.00 239.74,203.09 254.20,196.60" fill="none" stroke="#000" stroke-width="1.0" stroke-linejoin="round" />
<circle cx="181.90" cy="246.79" r="1.3" fill="#000"/>
<circle cx="196.36" cy="235.61" r="1.3" fill="#000"/>
<circle cx="210.82" cy="224.29" r="1.3" fill="#000"/>
<circle cx="225.28" cy="213.00" r="1.3" fill="#000"/>
<circle cx="239.74" cy="203.09" r="1.3" fill="#000"/>
<circle cx="254.20" cy="196.60" r="1.3" fill="#000"/>
<line x1="172.50" y1="249.10" x2="174.70" y2="249.10" stroke="#000" stroke-width="0.8" />
<text x="170.50" y="251.40" font-family="'Liberation Sans', sans-serif" font-size="6.3" font-weight="bold" text-anchor="end" fill="#111" >0</text>
<line x1="172.50" y1="236.12" x2="174.70" y2="236.12" stroke="#000" stroke-width="0.8" />
<text x="170.50" y="238.43" font-family="'Liberation Sans', sans-serif" font-size="6.3" font-weight="bold" text-anchor="end" fill="#111" >500</text>
<line x1="172.50" y1="223.15" x2="174.70" y2="223.15" stroke="#000" stroke-width="0.8" />
<text x="170.50" y="225.45" font-family="'Liberation Sans', sans-serif" font-size="6.3" font-weight="bold" text-anchor="end" fill="#111" >1000</text>
<line x1="172.50" y1="210.17" x2="174.70" y2="210.17" stroke="#000" stroke-width="0.8" />
<text x="170.50" y="212.47" font-family="'Liberation Sans', sans-serif" font-size="6.3" font-weight="bold" text-anchor="end" fill="#111" >1500</text>
<line x1="172.50" y1="197.20" x2="174.70" y2="197.20" stroke="#000" stroke-width="0.8" />
<text x="170.50" y="199.50" font-family="'Liberation Sans', sans-serif" font-size="6.3" font-weight="bold" text-anchor="end" fill="#111" >2000</text>
<line x1="172.50" y1="242.61" x2="173.80" y2="242.61" stroke="#000" stroke-width="0.8" />
<line x1="172.50" y1="229.64" x2="173.80" y2="229.64" stroke="#000" stroke-width="0.8" />
<line x1="172.50" y1="216.66" x2="173.80" y2="216.66" stroke="#000" stroke-width="0.8" />
<line x1="172.50" y1="203.69" x2="173.80" y2="203.69" stroke="#000" stroke-width="0.8" />
<line x1="181.90" y1="255.50" x2="181.90" y2="253.30" stroke="#000" stroke-width="0.8" />
<text x="181.90" y="262.40" font-family="'Liberation Sans', sans-serif" font-size="6.3" font-weight="bold" text-anchor="middle" fill="#111" >0</text>
<line x1="196.36" y1="255.50" x2="196.36" y2="253.30" stroke="#000" stroke-width="0.8" />
<text x="196.36" y="262.40" font-family="'Liberation Sans', sans-serif" font-size="6.3" font-weight="bold" text-anchor="middle" fill="#111" >15</text>
<line x1="210.82" y1="255.50" x2="210.82" y2="253.30" stroke="#000" stroke-width="0.8" />
<text x="210.82" y="262.40" font-family="'Liberation Sans', sans-serif" font-size="6.3" font-weight="bold" text-anchor="middle" fill="#111" >30</text>
<line x1="225.28" y1="255.50" x2="225.28" y2="253.30" stroke="#000" stroke-width="0.8" />
<text x="225.28" y="262.40" font-family="'Liberation Sans', sans-serif" font-size="6.3" font-weight="bold" text-anchor="middle" fill="#111" >45</text>
<line x1="239.74" y1="255.50" x2="239.74" y2="253.30" stroke="#000" stroke-width="0.8" />
<text x="239.74" y="262.40" font-family="'Liberation Sans', sans-serif" font-size="6.3" font-weight="bold" text-anchor="middle" fill="#111" >60</text>
<line x1="254.20" y1="255.50" x2="254.20" y2="253.30" stroke="#000" stroke-width="0.8" />
<text x="254.20" y="262.40" font-family="'Liberation Sans', sans-serif" font-size="6.3" font-weight="bold" text-anchor="middle" fill="#111" >75</text>
<line x1="189.13" y1="255.50" x2="189.13" y2="254.20" stroke="#000" stroke-width="0.8" />
<line x1="203.59" y1="255.50" x2="203.59" y2="254.20" stroke="#000" stroke-width="0.8" />
<line x1="218.05" y1="255.50" x2="218.05" y2="254.20" stroke="#000" stroke-width="0.8" />
<line x1="232.51" y1="255.50" x2="232.51" y2="254.20" stroke="#000" stroke-width="0.8" />
<line x1="246.97" y1="255.50" x2="246.97" y2="254.20" stroke="#000" stroke-width="0.8" />
<text x="217.60" y="273.00" font-family="'Liberation Sans', sans-serif" font-size="7" font-weight="bold" text-anchor="middle" fill="#222" >Illumination time (min)</text>
<text transform="translate(152.4,225.1) rotate(-90)" font-family="'Liberation Sans', sans-serif" font-size="6.6" font-weight="bold" text-anchor="middle" fill="#111">PL intensity (a.u.)</text>
<clipPath id="cd"><rect x="315.1" y="191.0" width="215.60000000000002" height="153.60000000000002"/></clipPath>
<g clip-path="url(#cd)">
<polyline points="314.26,324.12 315.66,322.66 317.05,322.75 318.45,324.53 319.84,324.25 321.24,324.44 322.63,323.23 324.03,323.64 325.42,322.47 326.82,324.89 328.21,320.96 329.61,322.18 331.00,320.81 332.40,321.13 333.79,321.36 335.19,320.51 336.58,320.17 337.98,321.35 339.37,321.71 340.77,321.23 342.16,323.29 343.56,324.27 344.95,322.36 346.35,323.61 347.74,325.05 349.14,324.00 350.54,323.63 351.93,324.40 353.33,324.71 354.72,323.08 356.12,322.16 357.51,323.34 358.91,323.88 360.30,322.68 361.70,322.32 363.09,323.39 364.49,322.48 365.88,321.93 367.28,323.24 368.67,323.87 370.07,322.60 371.46,322.68 372.86,321.74 374.25,324.28 375.65,323.59 377.04,323.75 378.44,324.69 379.83,322.64 381.23,322.17 382.62,323.51 384.02,321.17 385.42,321.75 386.81,321.93 388.21,322.15 389.60,321.52 391.00,324.01 392.39,321.85 393.79,321.85 395.18,324.44 396.58,322.10 397.97,322.76 399.37,321.62 400.76,322.97 402.16,322.51 403.55,322.14 404.95,323.51 406.34,321.90 407.74,322.71 409.13,322.07 410.53,323.23 411.92,321.53 413.32,322.13 414.71,323.07 416.11,322.26 417.50,321.64 418.90,321.14 420.30,324.92 421.69,322.31 423.09,322.86 424.48,323.57 425.88,324.66 427.27,322.28 428.67,325.12 430.06,323.21 431.46,322.51 432.85,325.75 434.25,324.43 435.64,325.62 437.04,324.02 438.43,322.72 439.83,322.25 441.22,326.42 442.62,325.19 444.01,323.88 445.41,323.00 446.80,324.31 448.20,325.62 449.59,324.56 450.99,324.96 452.38,325.22 453.78,325.85 455.18,324.71 456.57,324.85 457.97,325.34 459.36,325.53 460.76,326.72 462.15,325.92 463.55,324.17 464.94,325.71 466.34,327.10 467.73,324.19 469.13,325.10 470.52,323.47 471.92,325.70 473.31,326.31 474.71,327.41 476.10,324.50 477.50,323.23 478.89,326.88 480.29,326.73 481.68,325.43 483.08,326.97 484.47,326.40 485.87,326.50 487.26,325.95 488.66,325.01 490.06,326.17 491.45,325.24 492.85,326.68 494.24,325.90 495.64,328.54 497.03,327.83 498.43,325.46 499.82,326.95 501.22,325.73 502.61,325.79 504.01,324.98 505.40,325.54 506.80,325.34 508.19,326.55 509.59,327.19 510.98,327.24 512.38,327.00 513.77,327.70 515.17,327.10 516.56,326.63 517.96,326.28 519.35,326.92 520.75,328.62 522.14,326.67 523.54,326.37 524.94,325.48 526.33,326.03 527.73,327.34 529.12,327.44 530.52,324.56 531.91,325.90" fill="none" stroke="#000" stroke-width="2.0" stroke-linejoin="round" />
<polyline points="314.26,324.16 315.66,323.00 317.05,323.26 318.45,323.23 319.84,322.23 321.24,325.16 322.63,324.49 324.03,324.97 325.42,323.37 326.82,321.88 328.21,322.65 329.61,321.55 331.00,323.55 332.40,320.83 333.79,321.91 335.19,319.12 336.58,320.11 337.98,320.13 339.37,321.61 340.77,321.31 342.16,321.67 343.56,323.03 344.95,323.31 346.35,323.02 347.74,323.66 349.14,323.76 350.54,323.43 351.93,323.90 353.33,322.32 354.72,324.82 356.12,322.26 357.51,323.80 358.91,323.73 360.30,324.58 361.70,323.21 363.09,323.17 364.49,322.53 365.88,323.07 367.28,322.06 368.67,319.77 370.07,320.92 371.46,321.55 372.86,319.28 374.25,320.03 375.65,318.67 377.04,318.13 378.44,318.82 379.83,320.16 381.23,317.55 382.62,315.76 384.02,316.40 385.42,314.77 386.81,313.52 388.21,315.12 389.60,312.19 391.00,311.16 392.39,311.51 393.79,311.09 395.18,310.92 396.58,309.02 397.97,311.92 399.37,312.21 400.76,311.39 402.16,313.65 403.55,314.66 404.95,313.86 406.34,312.29 407.74,312.40 409.13,315.53 410.53,316.33 411.92,314.50 413.32,314.76 414.71,315.05 416.11,314.53 417.50,314.25 418.90,316.05 420.30,316.01 421.69,318.71 423.09,319.27 424.48,317.94 425.88,317.87 427.27,318.22 428.67,318.77 430.06,318.89 431.46,319.19 432.85,322.61 434.25,321.67 435.64,320.55 437.04,320.67 438.43,323.42 439.83,320.53 441.22,322.65 442.62,322.64 444.01,322.27 445.41,321.94 446.80,324.62 448.20,322.06 449.59,323.28 450.99,324.40 452.38,324.00 453.78,326.28 455.18,324.71 456.57,323.92 457.97,325.04 459.36,324.74 460.76,324.66 462.15,324.56 463.55,323.61 464.94,324.86 466.34,325.22 467.73,324.45 469.13,322.89 470.52,325.61 471.92,324.78 473.31,327.12 474.71,324.06 476.10,324.88 477.50,324.24 478.89,325.81 480.29,326.93 481.68,324.92 483.08,325.11 484.47,326.88 485.87,327.57 487.26,325.56 488.66,326.26 490.06,323.32 491.45,326.79 492.85,326.73 494.24,326.32 495.64,328.00 497.03,327.20 498.43,324.54 499.82,326.45 501.22,326.98 502.61,327.71 504.01,325.78 505.40,325.72 506.80,326.17 508.19,326.88 509.59,326.17 510.98,326.10 512.38,327.24 513.77,325.88 515.17,328.79 516.56,327.93 517.96,326.90 519.35,326.71 520.75,327.84 522.14,326.27 523.54,325.52 524.94,326.17 526.33,326.42 527.73,325.80 529.12,326.26 530.52,327.91 531.91,326.93" fill="none" stroke="#f00" stroke-width="2.0" stroke-linejoin="round" />
<polyline points="314.26,322.22 315.66,327.36 317.05,323.03 318.45,323.92 319.84,322.54 321.24,323.48 322.63,321.90 324.03,323.54 325.42,323.81 326.82,322.33 328.21,322.16 329.61,322.45 331.00,321.79 332.40,320.22 333.79,320.21 335.19,321.52 336.58,321.44 337.98,323.05 339.37,319.77 340.77,322.19 342.16,320.95 343.56,322.22 344.95,320.73 346.35,321.27 347.74,322.68 349.14,321.57 350.54,324.14 351.93,321.80 353.33,324.70 354.72,322.77 356.12,322.01 357.51,322.89 358.91,323.37 360.30,323.51 361.70,322.59 363.09,320.55 364.49,319.98 365.88,320.41 367.28,320.64 368.67,317.23 370.07,318.68 371.46,316.23 372.86,315.27 374.25,311.97 375.65,311.38 377.04,309.68 378.44,308.46 379.83,308.38 381.23,304.82 382.62,301.84 384.02,302.97 385.42,300.46 386.81,300.62 388.21,297.27 389.60,296.75 391.00,295.27 392.39,295.46 393.79,292.19 395.18,295.63 396.58,295.19 397.97,295.66 399.37,293.25 400.76,295.90 402.16,296.09 403.55,293.54 404.95,293.14 406.34,294.92 407.74,301.99 409.13,299.21 410.53,300.20 411.92,301.32 413.32,300.82 414.71,297.81 416.11,302.76 417.50,304.55 418.90,303.08 420.30,305.22 421.69,306.18 423.09,308.60 424.48,308.58 425.88,308.95 427.27,313.54 428.67,313.88 430.06,310.62 431.46,311.73 432.85,314.39 434.25,315.77 435.64,315.24 437.04,317.26 438.43,316.68 439.83,314.59 441.22,317.18 442.62,316.35 444.01,318.64 445.41,318.34 446.80,317.50 448.20,321.35 449.59,320.51 450.99,320.65 452.38,320.48 453.78,319.27 455.18,320.63 456.57,323.52 457.97,322.33 459.36,323.32 460.76,323.59 462.15,320.40 463.55,324.20 464.94,322.92 466.34,324.22 467.73,322.63 469.13,323.40 470.52,323.85 471.92,324.26 473.31,323.08 474.71,325.55 476.10,325.48 477.50,326.06 478.89,323.50 480.29,325.42 481.68,326.34 483.08,325.76 484.47,322.69 485.87,325.61 487.26,324.66 488.66,325.15 490.06,325.74 491.45,326.54 492.85,326.21 494.24,326.29 495.64,328.33 497.03,323.24 498.43,325.07 499.82,325.98 501.22,326.37 502.61,327.04 504.01,325.24 505.40,326.50 506.80,325.84 508.19,327.87 509.59,326.04 510.98,324.36 512.38,326.82 513.77,325.69 515.17,326.51 516.56,325.39 517.96,325.45 519.35,326.53 520.75,327.20 522.14,326.32 523.54,326.59 524.94,327.30 526.33,326.18 527.73,326.22 529.12,327.63 530.52,326.82 531.91,323.62" fill="none" stroke="#00f" stroke-width="2.0" stroke-linejoin="round" />
<polyline points="314.26,323.42 315.66,325.14 317.05,325.71 318.45,327.09 319.84,324.31 321.24,322.56 322.63,323.80 324.03,323.04 325.42,322.18 326.82,323.87 328.21,319.82 329.61,323.00 331.00,321.13 332.40,318.09 333.79,321.08 335.19,320.88 336.58,321.59 337.98,320.78 339.37,323.80 340.77,322.64 342.16,320.57 343.56,322.44 344.95,323.04 346.35,322.51 347.74,322.58 349.14,322.97 350.54,322.52 351.93,324.89 353.33,322.51 354.72,323.85 356.12,322.21 357.51,322.64 358.91,323.09 360.30,321.35 361.70,321.51 363.09,317.87 364.49,317.66 365.88,314.96 367.28,315.79 368.67,309.95 370.07,310.67 371.46,306.07 372.86,304.82 374.25,306.05 375.65,301.43 377.04,300.65 378.44,296.31 379.83,291.67 381.23,290.83 382.62,287.77 384.02,290.70 385.42,285.61 386.81,283.36 388.21,279.67 389.60,282.18 391.00,277.72 392.39,276.98 393.79,281.11 395.18,279.08 396.58,274.79 397.97,279.20 399.37,279.47 400.76,273.99 402.16,275.87 403.55,277.82 404.95,277.75 406.34,279.98 407.74,281.26 409.13,282.16 410.53,281.28 411.92,280.48 413.32,286.46 414.71,287.20 416.11,289.15 417.50,293.06 418.90,291.34 420.30,291.67 421.69,296.86 423.09,295.16 424.48,299.64 425.88,297.99 427.27,299.44 428.67,303.68 430.06,307.72 431.46,305.94 432.85,308.76 434.25,309.61 435.64,308.86 437.04,307.27 438.43,310.52 439.83,311.62 441.22,314.93 442.62,313.86 444.01,315.75 445.41,313.70 446.80,315.87 448.20,315.86 449.59,316.45 450.99,317.28 452.38,316.33 453.78,317.48 455.18,319.01 456.57,318.85 457.97,318.77 459.36,318.15 460.76,320.09 462.15,318.84 463.55,321.69 464.94,321.58 466.34,323.40 467.73,320.94 469.13,323.44 470.52,323.72 471.92,321.81 473.31,323.68 474.71,324.18 476.10,322.47 477.50,324.00 478.89,322.96 480.29,324.65 481.68,323.55 483.08,323.33 484.47,324.60 485.87,322.85 487.26,325.41 488.66,325.34 490.06,325.14 491.45,324.24 492.85,325.74 494.24,326.00 495.64,325.33 497.03,324.33 498.43,326.21 499.82,327.21 501.22,326.04 502.61,325.30 504.01,326.61 505.40,325.96 506.80,328.16 508.19,326.21 509.59,326.19 510.98,325.71 512.38,326.10 513.77,325.67 515.17,327.58 516.56,325.86 517.96,328.32 519.35,327.22 520.75,325.43 522.14,325.72 523.54,328.59 524.94,326.02 526.33,327.12 527.73,327.50 529.12,326.47 530.52,326.56 531.91,325.24" fill="none" stroke="#f0f" stroke-width="2.0" stroke-linejoin="round" />
<polyline points="314.26,325.67 315.66,325.09 317.05,323.63 318.45,324.55 319.84,323.38 321.24,323.03 322.63,325.36 324.03,322.50 325.42,323.89 326.82,320.72 328.21,321.85 329.61,322.65 331.00,321.32 332.40,320.76 333.79,320.61 335.19,319.53 336.58,320.48 337.98,319.38 339.37,320.88 340.77,322.14 342.16,323.98 343.56,324.32 344.95,322.57 346.35,322.17 347.74,321.49 349.14,323.78 350.54,323.05 351.93,323.99 353.33,323.58 354.72,325.34 356.12,321.40 357.51,322.03 358.91,320.21 360.30,318.14 361.70,316.33 363.09,316.35 364.49,310.08 365.88,308.42 367.28,305.79 368.67,304.69 370.07,303.53 371.46,300.79 372.86,295.02 374.25,291.07 375.65,289.53 377.04,279.82 378.44,279.70 379.83,274.35 381.23,271.25 382.62,273.70 384.02,264.77 385.42,263.56 386.81,266.13 388.21,257.14 389.60,253.65 391.00,252.19 392.39,250.31 393.79,257.49 395.18,252.69 396.58,253.68 397.97,251.73 399.37,251.79 400.76,248.56 402.16,250.43 403.55,256.93 404.95,252.34 406.34,251.29 407.74,257.22 409.13,264.81 410.53,263.88 411.92,264.66 413.32,271.46 414.71,269.41 416.11,274.99 417.50,271.52 418.90,274.23 420.30,278.64 421.69,284.03 423.09,282.62 424.48,287.32 425.88,289.75 427.27,287.86 428.67,293.86 430.06,296.88 431.46,293.99 432.85,293.60 434.25,295.51 435.64,298.62 437.04,297.65 438.43,303.56 439.83,300.39 441.22,301.88 442.62,307.28 444.01,307.13 445.41,310.93 446.80,311.48 448.20,309.94 449.59,313.52 450.99,312.30 452.38,312.77 453.78,314.01 455.18,313.54 456.57,312.85 457.97,315.93 459.36,315.40 460.76,315.31 462.15,318.45 463.55,319.22 464.94,321.97 466.34,318.73 467.73,318.39 469.13,319.60 470.52,317.96 471.92,319.08 473.31,320.35 474.71,321.76 476.10,323.12 477.50,322.27 478.89,322.12 480.29,323.07 481.68,323.60 483.08,323.93 484.47,322.92 485.87,325.88 487.26,324.51 488.66,324.27 490.06,323.75 491.45,323.91 492.85,325.09 494.24,325.62 495.64,326.39 497.03,323.94 498.43,324.69 499.82,325.21 501.22,326.32 502.61,326.85 504.01,324.45 505.40,325.82 506.80,325.39 508.19,324.05 509.59,327.73 510.98,327.01 512.38,325.88 513.77,325.69 515.17,327.54 516.56,326.58 517.96,327.18 519.35,327.17 520.75,326.16 522.14,326.38 523.54,325.35 524.94,325.97 526.33,325.04 527.73,327.51 529.12,326.22 530.52,328.18 531.91,328.46" fill="none" stroke="#008000" stroke-width="2.0" stroke-linejoin="round" />
<polyline points="314.26,324.79 315.66,323.44 317.05,322.95 318.45,322.90 319.84,322.02 321.24,324.29 322.63,323.25 324.03,323.96 325.42,324.77 326.82,323.69 328.21,322.48 329.61,323.04 331.00,321.73 332.40,319.80 333.79,320.35 335.19,320.40 336.58,320.68 337.98,321.32 339.37,323.52 340.77,320.91 342.16,323.96 343.56,322.44 344.95,322.90 346.35,322.75 347.74,322.75 349.14,323.49 350.54,322.18 351.93,324.49 353.33,322.28 354.72,324.45 356.12,320.29 357.51,320.88 358.91,318.40 360.30,314.90 361.70,317.22 363.09,311.92 364.49,307.54 365.88,303.40 367.28,298.66 368.67,296.14 370.07,292.55 371.46,289.63 372.86,285.38 374.25,281.73 375.65,274.80 377.04,272.22 378.44,266.06 379.83,258.80 381.23,255.99 382.62,257.08 384.02,252.66 385.42,246.17 386.81,247.71 388.21,249.11 389.60,243.35 391.00,234.81 392.39,234.45 393.79,231.11 395.18,224.72 396.58,234.39 397.97,223.00 399.37,233.63 400.76,235.66 402.16,226.97 403.55,241.09 404.95,240.35 406.34,240.43 407.74,245.74 409.13,245.54 410.53,244.60 411.92,249.08 413.32,252.97 414.71,252.45 416.11,252.54 417.50,256.70 418.90,271.10 420.30,263.49 421.69,268.39 423.09,272.61 424.48,279.46 425.88,280.88 427.27,282.82 428.67,287.97 430.06,283.83 431.46,286.70 432.85,290.67 434.25,294.53 435.64,291.46 437.04,294.74 438.43,295.64 439.83,300.20 441.22,296.44 442.62,302.66 444.01,300.26 445.41,308.54 446.80,305.75 448.20,307.32 449.59,312.70 450.99,310.69 452.38,312.58 453.78,313.76 455.18,313.59 456.57,314.99 457.97,313.54 459.36,314.06 460.76,315.02 462.15,317.19 463.55,317.32 464.94,314.98 466.34,318.26 467.73,318.36 469.13,319.62 470.52,318.69 471.92,318.74 473.31,319.33 474.71,320.25 476.10,320.33 477.50,321.86 478.89,321.22 480.29,323.49 481.68,322.50 483.08,321.90 484.47,324.38 485.87,322.57 487.26,323.36 488.66,325.35 490.06,326.10 491.45,326.23 492.85,325.72 494.24,324.36 495.64,324.59 497.03,323.65 498.43,322.64 499.82,325.79 501.22,327.61 502.61,327.12 504.01,327.81 505.40,326.46 506.80,326.41 508.19,324.56 509.59,327.68 510.98,326.44 512.38,326.55 513.77,326.52 515.17,327.08 516.56,324.30 517.96,326.77 519.35,326.56 520.75,325.86 522.14,326.39 523.54,324.76 524.94,327.92 526.33,326.87 527.73,327.22 529.12,326.77 530.52,325.76 531.91,327.36" fill="none" stroke="#000080" stroke-width="2.0" stroke-linejoin="round" />
</g>
<rect x="315.10" y="191.00" width="215.60" height="153.60" fill="none" stroke="#000" stroke-width="1.8"/>
<line x1="315.10" y1="327.40" x2="319.30" y2="327.40" stroke="#000" stroke-width="1.3" />
<text x="310.50" y="330.50" font-family="'Liberation Sans', sans-serif" font-size="11.5" font-weight="bold" text-anchor="end" fill="#000" >0</text>
<line x1="315.10" y1="293.27" x2="319.30" y2="293.27" stroke="#000" stroke-width="1.3" />
<text x="310.50" y="296.37" font-family="'Liberation Sans', sans-serif" font-size="11.5" font-weight="bold" text-anchor="end" fill="#000" >1000</text>
<line x1="315.10" y1="259.14" x2="319.30" y2="259.14" stroke="#000" stroke-width="1.3" />
<text x="310.50" y="262.24" font-family="'Liberation Sans', sans-serif" font-size="11.5" font-weight="bold" text-anchor="end" fill="#000" >2000</text>
<line x1="315.10" y1="225.01" x2="319.30" y2="225.01" stroke="#000" stroke-width="1.3" />
<text x="310.50" y="228.11" font-family="'Liberation Sans', sans-serif" font-size="11.5" font-weight="bold" text-anchor="end" fill="#000" >3000</text>
<line x1="315.10" y1="310.33" x2="317.70" y2="310.33" stroke="#000" stroke-width="1.3" />
<line x1="315.10" y1="276.20" x2="317.70" y2="276.20" stroke="#000" stroke-width="1.3" />
<line x1="315.10" y1="242.07" x2="317.70" y2="242.07" stroke="#000" stroke-width="1.3" />
<line x1="315.10" y1="207.94" x2="317.70" y2="207.94" stroke="#000" stroke-width="1.3" />
<line x1="331.70" y1="344.60" x2="331.70" y2="340.80" stroke="#000" stroke-width="1.3" />
<text x="331.70" y="357.20" font-family="'Liberation Sans', sans-serif" font-size="11.4" font-weight="bold" text-anchor="middle" fill="#000" >350</text>
<line x1="375.30" y1="344.60" x2="375.30" y2="340.80" stroke="#000" stroke-width="1.3" />
<text x="375.30" y="357.20" font-family="'Liberation Sans', sans-serif" font-size="11.4" font-weight="bold" text-anchor="middle" fill="#000" >400</text>
<line x1="418.90" y1="344.60" x2="418.90" y2="340.80" stroke="#000" stroke-width="1.3" />
<text x="418.90" y="357.20" font-family="'Liberation Sans', sans-serif" font-size="11.4" font-weight="bold" text-anchor="middle" fill="#000" >450</text>
<line x1="462.50" y1="344.60" x2="462.50" y2="340.80" stroke="#000" stroke-width="1.3" />
<text x="462.50" y="357.20" font-family="'Liberation Sans', sans-serif" font-size="11.4" font-weight="bold" text-anchor="middle" fill="#000" >500</text>
<line x1="506.10" y1="344.60" x2="506.10" y2="340.80" stroke="#000" stroke-width="1.3" />
<text x="506.10" y="357.20" font-family="'Liberation Sans', sans-serif" font-size="11.4" font-weight="bold" text-anchor="middle" fill="#000" >550</text>
<line x1="353.50" y1="344.60" x2="353.50" y2="342.20" stroke="#000" stroke-width="1.3" />
<line x1="397.10" y1="344.60" x2="397.10" y2="342.20" stroke="#000" stroke-width="1.3" />
<line x1="440.70" y1="344.60" x2="440.70" y2="342.20" stroke="#000" stroke-width="1.3" />
<line x1="484.30" y1="344.60" x2="484.30" y2="342.20" stroke="#000" stroke-width="1.3" />
<line x1="527.90" y1="344.60" x2="527.90" y2="342.20" stroke="#000" stroke-width="1.3" />
<text x="423.00" y="375.80" font-family="'Liberation Sans', sans-serif" font-size="12" font-weight="bold" text-anchor="middle" fill="#000" >Wavelength (nm)</text>
<text transform="translate(278.3,266) rotate(-90)" font-family="'Liberation Sans', sans-serif" font-size="11.5" font-weight="bold" text-anchor="middle">PL intensity (a.u.)</text>
<text x="268.70" y="205.00" font-family="'Liberation Serif', serif" font-size="16.6" font-weight="normal" text-anchor="start" fill="#000" >(d)</text>
<line x1="320.80" y1="208.80" x2="339.80" y2="208.80" stroke="#000" stroke-width="2.1" />
<text x="341.00" y="210.90" font-family="'Liberation Sans', sans-serif" font-size="9.3" font-weight="bold" text-anchor="start" fill="#000" >0 min</text>
<line x1="320.80" y1="220.10" x2="339.80" y2="220.10" stroke="#f00" stroke-width="2.1" />
<text x="341.00" y="222.20" font-family="'Liberation Sans', sans-serif" font-size="9.3" font-weight="bold" text-anchor="start" fill="#000" >15 min</text>
<line x1="320.80" y1="231.40" x2="339.80" y2="231.40" stroke="#00f" stroke-width="2.1" />
<text x="341.00" y="233.50" font-family="'Liberation Sans', sans-serif" font-size="9.3" font-weight="bold" text-anchor="start" fill="#000" >30 min</text>
<line x1="320.80" y1="242.70" x2="339.80" y2="242.70" stroke="#f0f" stroke-width="2.1" />
<text x="341.00" y="244.80" font-family="'Liberation Sans', sans-serif" font-size="9.3" font-weight="bold" text-anchor="start" fill="#000" >45 min</text>
<line x1="320.80" y1="254.00" x2="339.80" y2="254.00" stroke="#008000" stroke-width="2.1" />
<text x="341.00" y="256.10" font-family="'Liberation Sans', sans-serif" font-size="9.3" font-weight="bold" text-anchor="start" fill="#000" >60 min</text>
<line x1="320.80" y1="265.30" x2="339.80" y2="265.30" stroke="#000080" stroke-width="2.1" />
<text x="341.00" y="267.40" font-family="'Liberation Sans', sans-serif" font-size="9.3" font-weight="bold" text-anchor="start" fill="#000" >75 min</text>
<rect x="444.4" y="190.9" width="86.30000000000007" height="62.0" fill="#fff" stroke="#000" stroke-width="1"/>
<polyline points="453.90,245.71 467.69,240.10 481.47,231.41 495.25,222.11 509.04,206.30 522.82,196.29" fill="none" stroke="#000" stroke-width="1.0" stroke-linejoin="round" />
<circle cx="453.90" cy="245.71" r="1.3" fill="#000"/>
<circle cx="467.69" cy="240.10" r="1.3" fill="#000"/>
<circle cx="481.47" cy="231.41" r="1.3" fill="#000"/>
<circle cx="495.25" cy="222.11" r="1.3" fill="#000"/>
<circle cx="509.04" cy="206.30" r="1.3" fill="#000"/>
<circle cx="522.82" cy="196.29" r="1.3" fill="#000"/>
<line x1="444.40" y1="247.40" x2="446.60" y2="247.40" stroke="#000" stroke-width="0.8" />
<text x="442.40" y="249.70" font-family="'Liberation Sans', sans-serif" font-size="6.3" font-weight="bold" text-anchor="end" fill="#111" >0</text>
<line x1="444.40" y1="234.40" x2="446.60" y2="234.40" stroke="#000" stroke-width="0.8" />
<text x="442.40" y="236.70" font-family="'Liberation Sans', sans-serif" font-size="6.3" font-weight="bold" text-anchor="end" fill="#111" >700</text>
<line x1="444.40" y1="221.40" x2="446.60" y2="221.40" stroke="#000" stroke-width="0.8" />
<text x="442.40" y="223.70" font-family="'Liberation Sans', sans-serif" font-size="6.3" font-weight="bold" text-anchor="end" fill="#111" >1400</text>
<line x1="444.40" y1="208.40" x2="446.60" y2="208.40" stroke="#000" stroke-width="0.8" />
<text x="442.40" y="210.70" font-family="'Liberation Sans', sans-serif" font-size="6.3" font-weight="bold" text-anchor="end" fill="#111" >2100</text>
<line x1="444.40" y1="195.40" x2="446.60" y2="195.40" stroke="#000" stroke-width="0.8" />
<text x="442.40" y="197.70" font-family="'Liberation Sans', sans-serif" font-size="6.3" font-weight="bold" text-anchor="end" fill="#111" >2800</text>
<line x1="444.40" y1="240.90" x2="445.70" y2="240.90" stroke="#000" stroke-width="0.8" />
<line x1="444.40" y1="227.90" x2="445.70" y2="227.90" stroke="#000" stroke-width="0.8" />
<line x1="444.40" y1="214.90" x2="445.70" y2="214.90" stroke="#000" stroke-width="0.8" />
<line x1="444.40" y1="201.90" x2="445.70" y2="201.90" stroke="#000" stroke-width="0.8" />
<line x1="453.90" y1="252.90" x2="453.90" y2="250.70" stroke="#000" stroke-width="0.8" />
<text x="453.90" y="259.80" font-family="'Liberation Sans', sans-serif" font-size="6.3" font-weight="bold" text-anchor="middle" fill="#111" >0</text>
<line x1="467.69" y1="252.90" x2="467.69" y2="250.70" stroke="#000" stroke-width="0.8" />
<text x="467.69" y="259.80" font-family="'Liberation Sans', sans-serif" font-size="6.3" font-weight="bold" text-anchor="middle" fill="#111" >15</text>
<line x1="481.47" y1="252.90" x2="481.47" y2="250.70" stroke="#000" stroke-width="0.8" />
<text x="481.47" y="259.80" font-family="'Liberation Sans', sans-serif" font-size="6.3" font-weight="bold" text-anchor="middle" fill="#111" >30</text>
<line x1="495.25" y1="252.90" x2="495.25" y2="250.70" stroke="#000" stroke-width="0.8" />
<text x="495.25" y="259.80" font-family="'Liberation Sans', sans-serif" font-size="6.3" font-weight="bold" text-anchor="middle" fill="#111" >45</text>
<line x1="509.04" y1="252.90" x2="509.04" y2="250.70" stroke="#000" stroke-width="0.8" />
<text x="509.04" y="259.80" font-family="'Liberation Sans', sans-serif" font-size="6.3" font-weight="bold" text-anchor="middle" fill="#111" >60</text>
<line x1="522.82" y1="252.90" x2="522.82" y2="250.70" stroke="#000" stroke-width="0.8" />
<text x="522.82" y="259.80" font-family="'Liberation Sans', sans-serif" font-size="6.3" font-weight="bold" text-anchor="middle" fill="#111" >75</text>
<line x1="460.79" y1="252.90" x2="460.79" y2="251.60" stroke="#000" stroke-width="0.8" />
<line x1="474.58" y1="252.90" x2="474.58" y2="251.60" stroke="#000" stroke-width="0.8" />
<line x1="488.36" y1="252.90" x2="488.36" y2="251.60" stroke="#000" stroke-width="0.8" />
<line x1="502.15" y1="252.90" x2="502.15" y2="251.60" stroke="#000" stroke-width="0.8" />
<line x1="515.93" y1="252.90" x2="515.93" y2="251.60" stroke="#000" stroke-width="0.8" />
<text x="487.70" y="269.60" font-family="'Liberation Sans', sans-serif" font-size="7" font-weight="bold" text-anchor="middle" fill="#222" >Illumination time (min)</text>
<text transform="translate(425.4,225) rotate(-90)" font-family="'Liberation Sans', sans-serif" font-size="6.3" font-weight="bold" text-anchor="middle" fill="#111">PL intensity (a.u.)</text>
</svg>
</body></html>
